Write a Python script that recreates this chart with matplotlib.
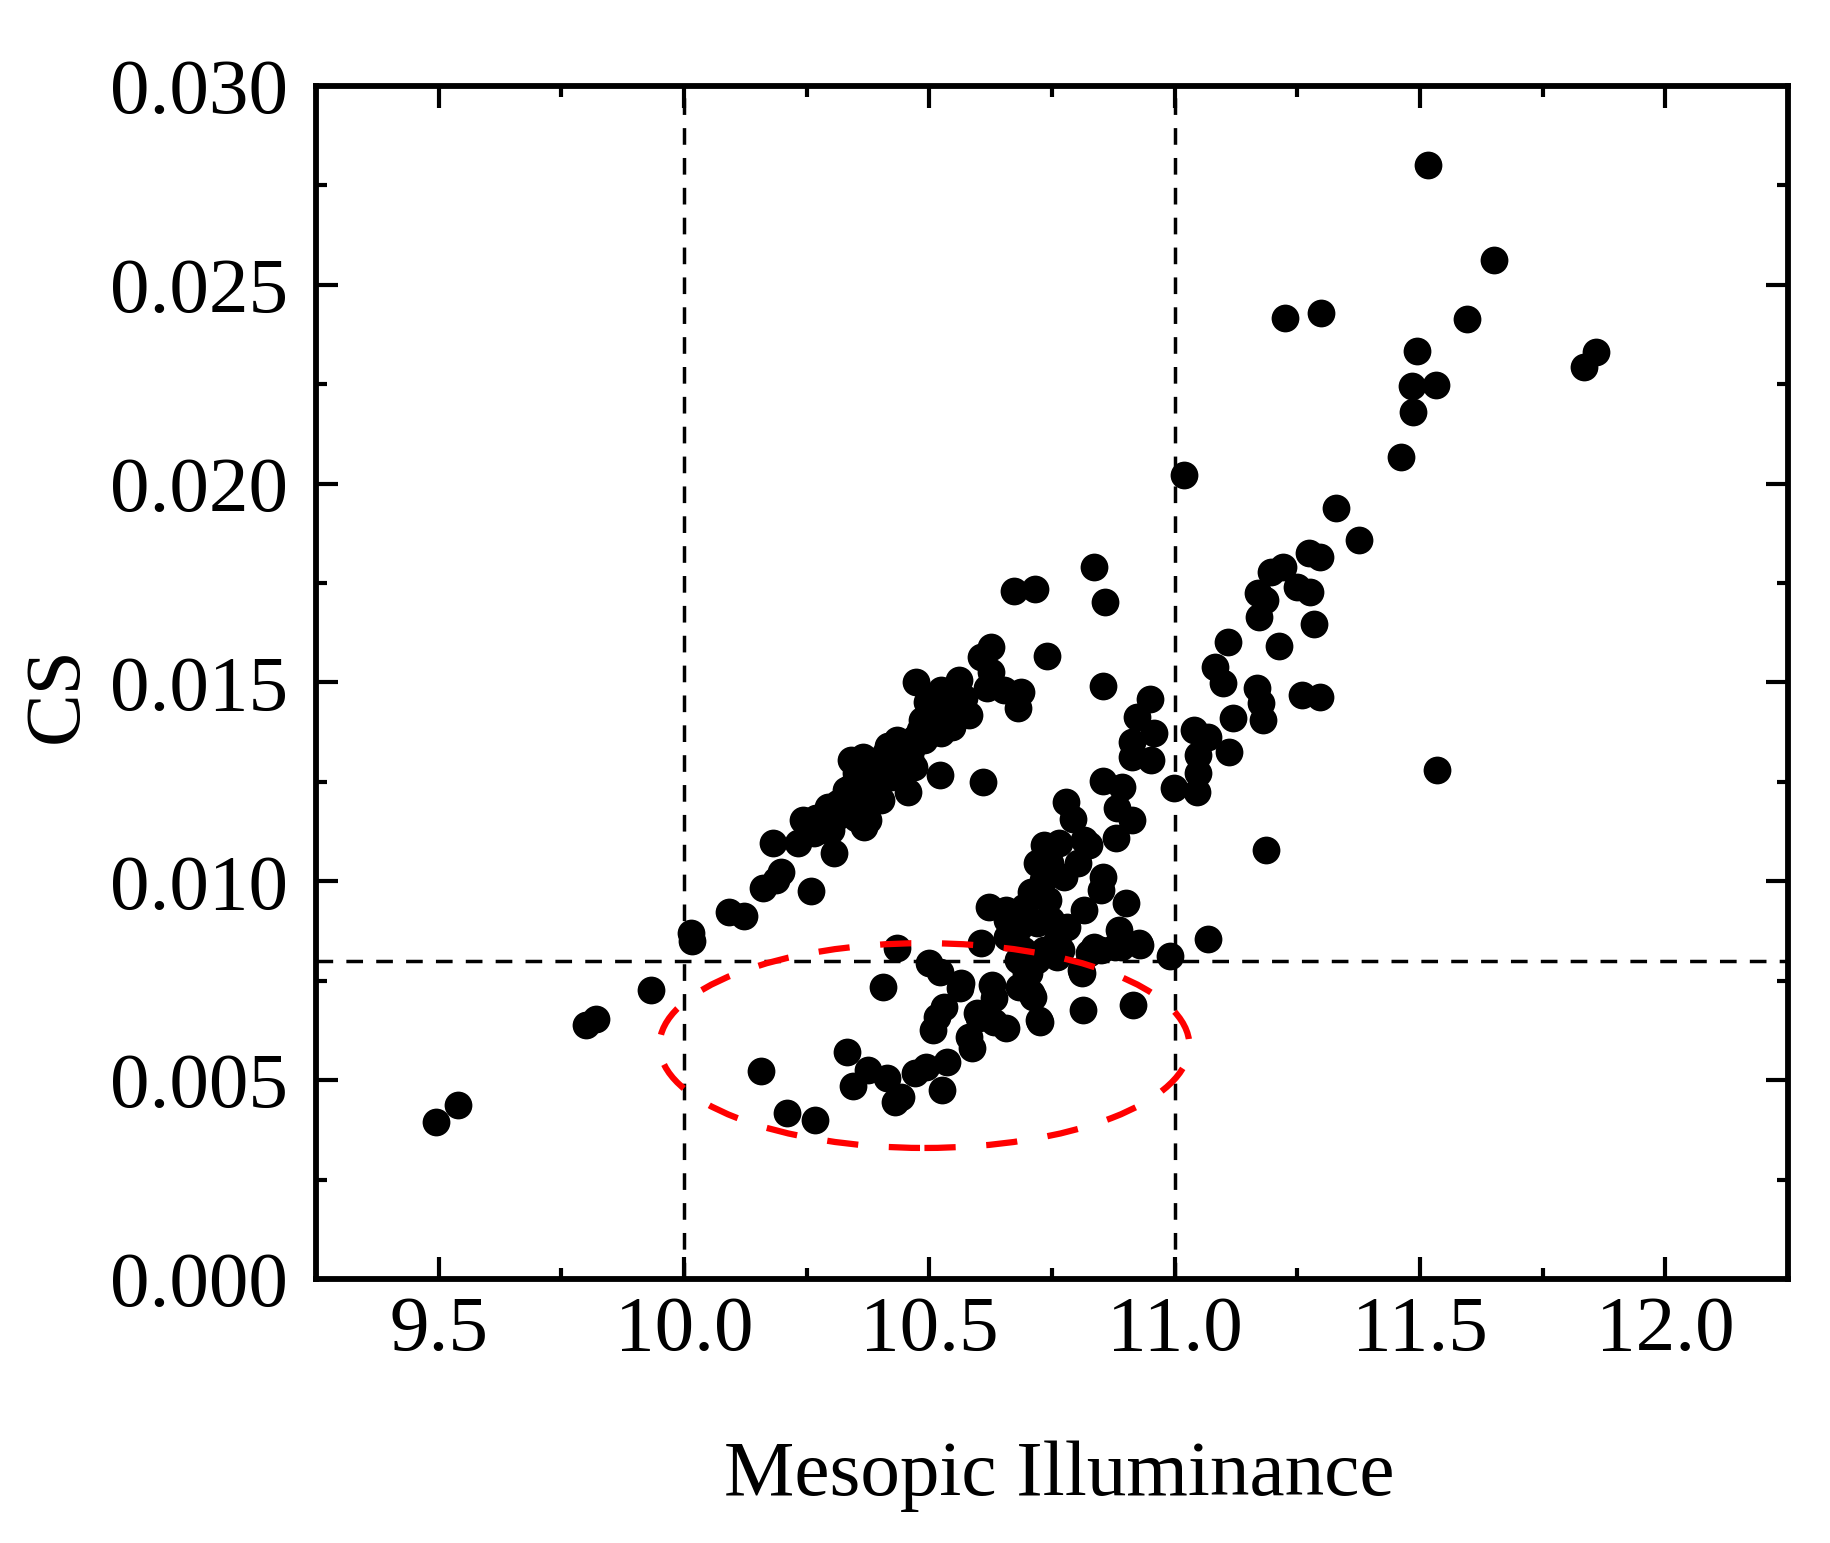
import numpy as np
import matplotlib.pyplot as plt
from matplotlib.patches import Ellipse
from matplotlib.ticker import MultipleLocator, FormatStrFormatter

plt.rcParams['font.family'] = ['Liberation Serif', 'DejaVu Serif']
plt.rcParams['mathtext.fontset'] = 'stix'

###############################################################################
# Data (Mesopic illuminance vs CS)
# -----------------------------------------------------
# isolated points on the far left
left_x = [9.495, 9.54, 9.80, 9.82, 9.933]
left_cs = [0.00394, 0.00438, 0.00638, 0.00655, 0.00727]

# upper diagonal band
band_x = [10.014, 10.016, 10.091, 10.122, 10.16, 10.187, 10.198, 10.181, 10.232,
          10.242, 10.259, 10.265, 10.286, 10.306, 10.293, 10.313, 10.313, 10.34,
          10.347, 10.367, 10.374, 10.381, 10.34, 10.35, 10.374, 10.364, 10.34,
          10.394, 10.401, 10.422, 10.415, 10.435, 10.449, 10.456, 10.462, 10.469,
          10.489, 10.486, 10.51, 10.523, 10.547, 10.581, 10.522, 10.472, 10.523,
          10.561, 10.618, 10.652, 10.686, 10.68, 10.625, 10.605, 10.625, 10.739,
          10.61, 10.673, 10.715, 10.836, 10.859, 10.854,
          10.30, 10.32, 10.33, 10.355, 10.36, 10.37, 10.385, 10.40, 10.41, 10.42,
          10.43, 10.44, 10.45, 10.47, 10.48, 10.50, 10.50, 10.51, 10.53, 10.54,
          10.55, 10.57, 10.495, 10.505, 10.33, 10.39, 10.28, 10.27, 10.36, 10.35,
          10.40, 10.44, 10.46, 10.52, 10.56]
band_cs = [0.0087, 0.0085, 0.00924, 0.00913, 0.00982, 0.01003, 0.01024, 0.01097, 0.01096,
           0.01154, 0.00976, 0.01121, 0.01146, 0.01071, 0.01188, 0.01163, 0.01196, 0.01171,
           0.01205, 0.01137, 0.01154, 0.01213, 0.01238, 0.01272, 0.01238, 0.01313, 0.01305,
           0.0128, 0.01205, 0.01263, 0.01339, 0.01355, 0.0128, 0.01225, 0.0133, 0.01288,
           0.01355, 0.01406, 0.01431, 0.01372, 0.01389, 0.01418, 0.01267, 0.0150, 0.01481,
           0.01506, 0.01485, 0.01481, 0.01477, 0.01435, 0.0159, 0.01565, 0.01527, 0.01567,
           0.0125, 0.01731, 0.01734, 0.01791, 0.01702, 0.01491,
           0.0113, 0.0118, 0.0121, 0.0125, 0.0122, 0.0127, 0.0130, 0.0129, 0.0132, 0.0131,
           0.0133, 0.0131, 0.0134, 0.0136, 0.0138, 0.0140, 0.0137, 0.0141, 0.0142, 0.0145,
           0.0144, 0.0146, 0.0145, 0.0146, 0.0123, 0.0125, 0.0113, 0.0116, 0.0119, 0.0116,
           0.0126, 0.0128, 0.0131, 0.0139, 0.0143]

# lower cluster (inside / around the red ellipse)
low_x = [10.156, 10.209, 10.267, 10.333, 10.374, 10.344, 10.413, 10.431, 10.442, 10.471,
         10.406, 10.507, 10.515, 10.529, 10.562, 10.50, 10.522, 10.435, 10.493, 10.536,
         10.526, 10.587, 10.58, 10.602, 10.631, 10.657, 10.627, 10.631, 10.726, 10.711,
         10.704, 10.813, 10.916, 10.809, 10.606, 10.682, 10.689, 10.733, 10.835, 10.878,
         10.929, 10.991,
         10.778, 10.792, 10.883, 10.914, 10.881, 10.734, 10.764, 10.815, 10.825, 10.802,
         10.853, 10.849, 10.775, 10.731, 10.707, 10.622, 10.656, 10.693, 10.741, 10.815,
         10.90, 10.887, 10.927, 10.659, 10.69, 10.761, 10.768, 10.825, 10.849, 10.89,
         10.812, 10.697, 10.707, 10.724, 10.564, 10.598, 10.68, 10.761, 10.659, 10.68,
         10.72, 10.747, 10.781, 10.72, 10.72, 10.745,
         10.924, 10.957, 10.914, 10.914, 10.951, 10.949, 10.853, 10.893, 10.999]
low_cs = [0.00524, 0.00418, 0.0040, 0.00572, 0.00526, 0.00486, 0.00505, 0.00446, 0.00458, 0.00517,
          0.00733, 0.00626, 0.0066, 0.00685, 0.00731, 0.00794, 0.00773, 0.00832, 0.00534, 0.00546,
          0.00475, 0.0058, 0.00609, 0.00656, 0.00647, 0.0063, 0.00739, 0.00706, 0.00645, 0.0071,
          0.00769, 0.00676, 0.00689, 0.00777, 0.00844, 0.00735, 0.00794, 0.00827, 0.00836, 0.00836,
          0.0084, 0.00812,
          0.0120, 0.01156, 0.01184, 0.01154, 0.01108, 0.01091, 0.01096, 0.01104, 0.01091, 0.01045,
          0.01012, 0.00978, 0.01012, 0.01003, 0.00974, 0.00936, 0.00928, 0.00936, 0.00953, 0.00928,
          0.00945, 0.00878, 0.00844, 0.00861, 0.00827, 0.00852, 0.00827, 0.00819, 0.00827, 0.00836,
          0.00769, 0.00769, 0.00718, 0.00651, 0.00744, 0.00668, 0.00802, 0.0081, 0.00903, 0.0088,
          0.00894, 0.00903, 0.00886, 0.00802, 0.01045, 0.01045,
          0.01414, 0.01372, 0.01351, 0.01313, 0.01305, 0.01458, 0.01251, 0.01238, 0.01234]

# right branch (above 11 lx)
right_x = [11.046, 11.067, 11.375, 11.273, 11.297, 11.22, 11.196, 11.169, 11.185, 11.25,
           11.275, 11.171, 11.285, 11.108, 11.212, 11.083, 11.098, 11.167, 11.175, 11.18,
           11.26, 11.297, 11.118, 11.039, 11.067, 11.047, 11.11, 11.047, 11.534, 11.187,
           11.516, 11.651, 11.225, 11.299, 11.595, 11.493, 11.859, 11.834, 11.484, 11.533,
           11.485, 11.461, 11.02, 11.328]
right_cs = [0.01225, 0.00855, 0.01858, 0.01826, 0.01816, 0.0179, 0.01778, 0.01725, 0.01707, 0.0174,
            0.01728, 0.01665, 0.01647, 0.01602, 0.01592, 0.01539, 0.01499, 0.01486, 0.01448, 0.01406,
            0.01469, 0.01464, 0.01411, 0.01381, 0.01363, 0.01318, 0.01325, 0.01272, 0.0128, 0.01079,
            0.02801, 0.02562, 0.02417, 0.0243, 0.02413, 0.02334, 0.0233, 0.02293, 0.02246, 0.02248,
            0.02181, 0.02066, 0.02022, 0.01938]

illum = np.concatenate([left_x, band_x, low_x, right_x])
cs = np.concatenate([left_cs, band_cs, low_cs, right_cs])

###############################################################################
# Figure
# ------
fig = plt.figure(figsize=(18.31, 15.43), dpi=100)
ax = fig.add_axes([0.1726, 0.1711, 0.8039, 0.7732])

ax.plot(illum, cs, 'o', color='black', markersize=20, markeredgewidth=0,
        zorder=3)

# threshold lines
dash_black = (0, (4.8, 3.8))
ax.axvline(10.0, color='black', lw=2.5, linestyle=dash_black, zorder=2)
ax.axvline(11.0, color='black', lw=2.5, linestyle=dash_black, zorder=2)
ax.axhline(0.008, color='black', lw=2.5, linestyle=dash_black, zorder=2)

# highlighted region
ell = Ellipse((10.49, 0.00587), width=1.08, height=0.00515, angle=0,
              fill=False, edgecolor='red', lw=4.5, linestyle=(0, (5.0, 4.9)),
              zorder=4)
ax.add_patch(ell)

ax.set_xlim(9.25, 12.25)
ax.set_ylim(0.0, 0.030)
ax.xaxis.set_major_locator(MultipleLocator(0.5))
ax.xaxis.set_minor_locator(MultipleLocator(0.25))
ax.yaxis.set_major_locator(MultipleLocator(0.005))
ax.yaxis.set_minor_locator(MultipleLocator(0.0025))
ax.xaxis.set_major_formatter(FormatStrFormatter('%.1f'))
ax.yaxis.set_major_formatter(FormatStrFormatter('%.3f'))

ax.tick_params(which='both', direction='in', top=True, right=True, width=3)
ax.tick_params(which='major', length=16, labelsize=57)
ax.tick_params(which='minor', length=8)
ax.tick_params(axis='y', which='major', pad=20)
ax.tick_params(axis='x', which='major', pad=12)
for sp in ax.spines.values():
    sp.set_linewidth(4.2)

ax.set_xlabel('Mesopic Illuminance', fontsize=57)
ax.set_ylabel('CS', fontsize=57)
ax.xaxis.set_label_coords(0.505, -0.165)
ax.xaxis.label.set_va('center')
ax.yaxis.set_label_coords(-0.175, 0.49)
ax.yaxis.label.set_va('center')

fig.savefig('out.png', dpi=100)
